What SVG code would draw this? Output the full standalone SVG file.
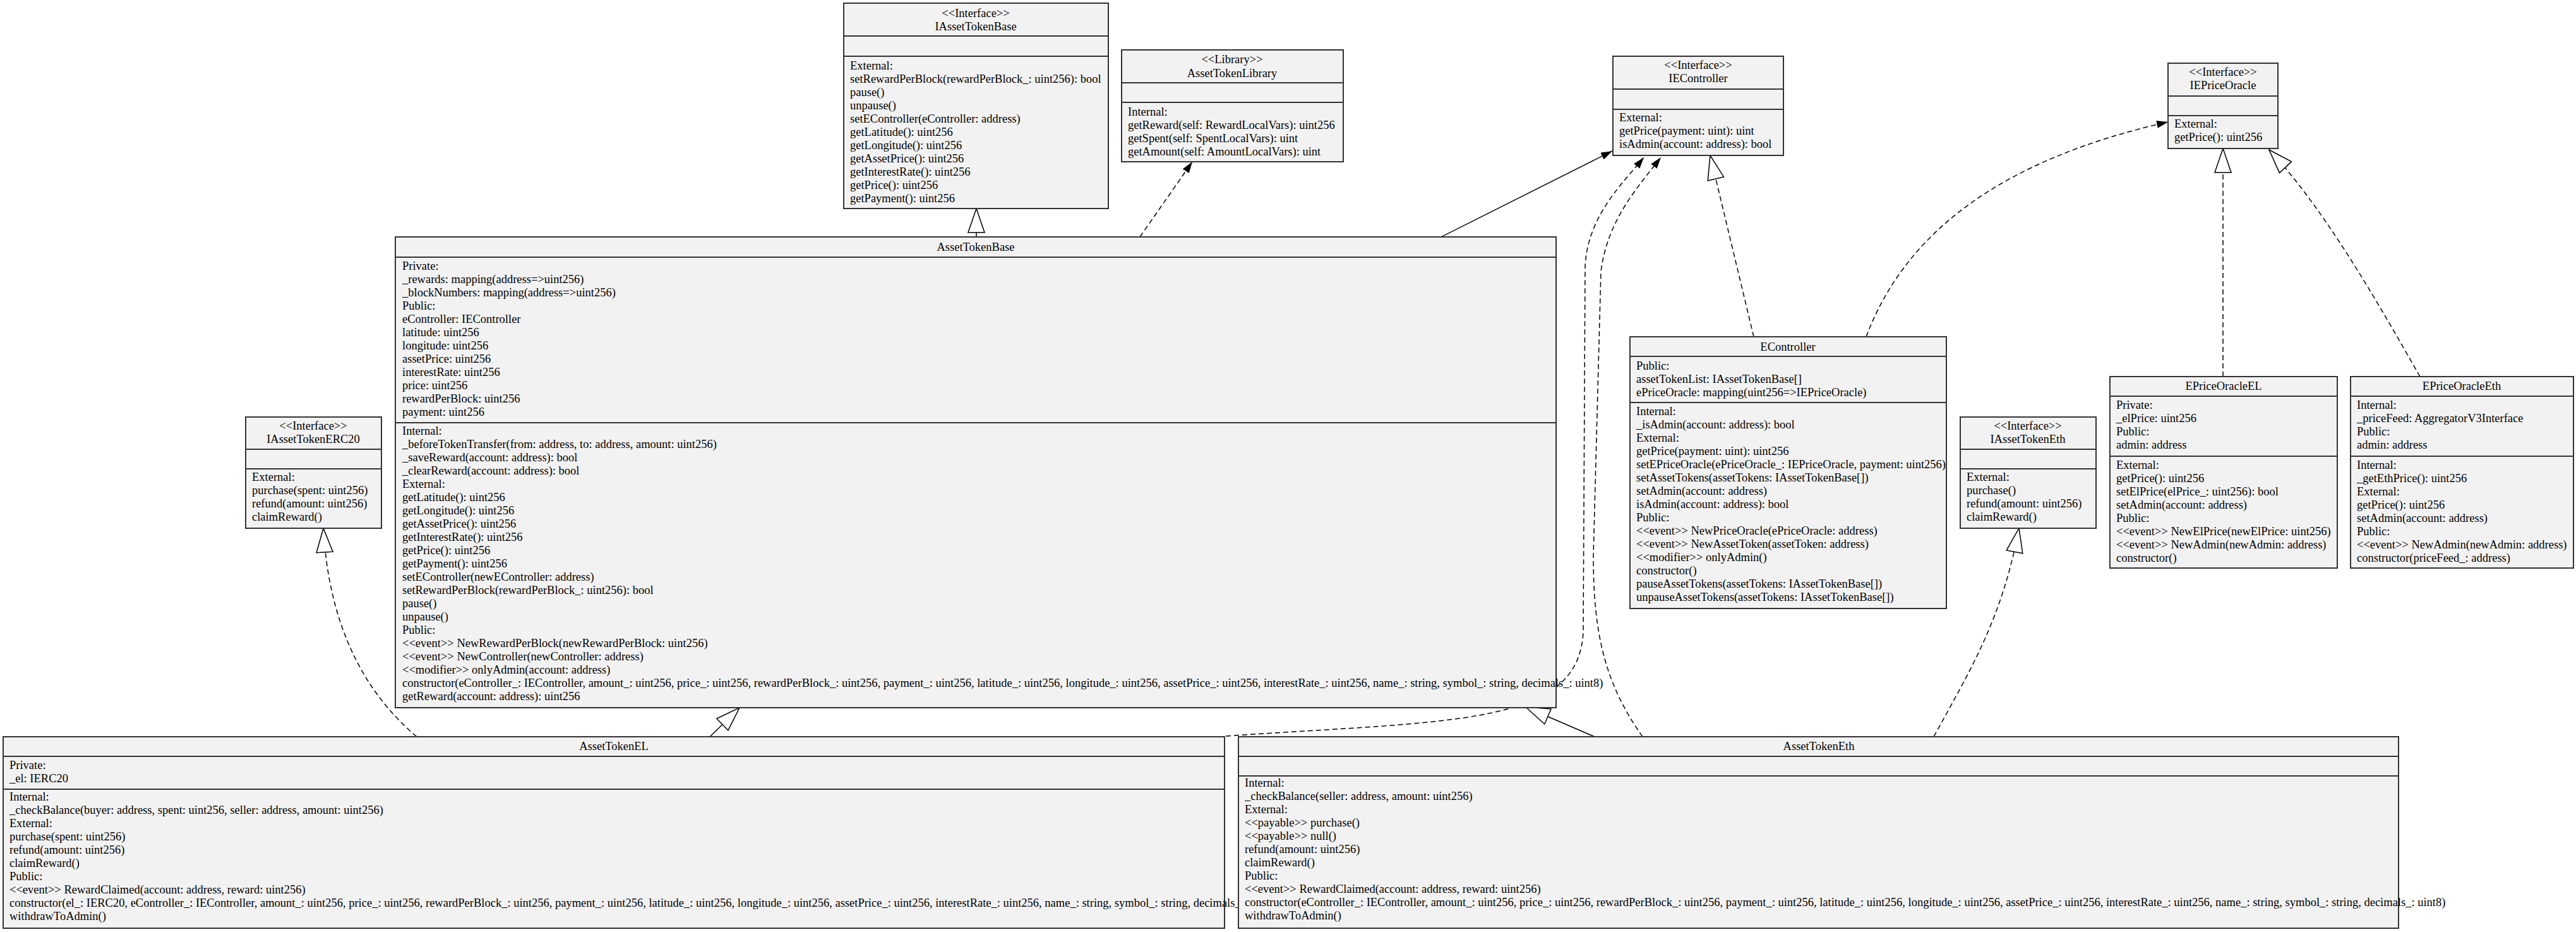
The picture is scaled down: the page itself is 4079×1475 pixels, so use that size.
<svg xmlns="http://www.w3.org/2000/svg" width="4079" height="1475" viewBox="0 0 4079 1475">
<style>
text{font-family:"Liberation Serif","Times New Roman",serif;font-size:18.5px;fill:#000}
.c{text-anchor:middle}
.box{fill:#f2f2f2;stroke:#333;stroke-width:2}
.sep{stroke:#333;stroke-width:2}
.e{fill:none;stroke:#000;stroke-width:1.5}
.d{stroke-dasharray:8,5}
</style>
<defs>
<marker id="tri" markerUnits="userSpaceOnUse" viewBox="-1 -1 40 28" refX="38" refY="13" markerWidth="40" markerHeight="28" orient="auto"><path d="M0,0 L38,13 L0,26 Z" fill="#fff" stroke="#000" stroke-width="1.5"/></marker>
<marker id="arr" markerUnits="userSpaceOnUse" viewBox="0 0 18 12" refX="18" refY="6" markerWidth="18" markerHeight="12" orient="auto"><path d="M0,0 L18,6 L0,12 Z" fill="#000"/></marker>
</defs>
<g id="edges">
<path class="e" d="M1546,375 L1546,330" marker-end="url(#tri)"/>
<path class="e d" d="M1805,375 L1888,256" marker-end="url(#arr)"/>
<path class="e" d="M2282,375 L2553,239" marker-end="url(#arr)"/>
<path class="e" d="M1124,1166 L1171,1120" marker-end="url(#tri)"/>
<path class="e" d="M2525,1166 L2416,1119" marker-end="url(#tri)"/>
<path class="e d" d="M660,1166 C570,1090 520,980 512,836" marker-end="url(#tri)"/>
<path class="e d" d="M1941,1165 C2300,1140 2500,1150 2507,1000 L2510,420 C2515,340 2570,290 2603,249" marker-end="url(#arr)"/>
<path class="e d" d="M2601,1166 C2540,1080 2523,1000 2523,880 L2535,430 C2545,350 2590,300 2630,249" marker-end="url(#arr)"/>
<path class="e d" d="M3062,1166 C3120,1060 3170,980 3197,836" marker-end="url(#tri)"/>
<path class="e d" d="M2777,533 L2708,246" marker-end="url(#tri)"/>
<path class="e d" d="M2955,533 C3020,360 3180,250 3433,193" marker-end="url(#arr)"/>
<path class="e d" d="M3520,596 L3520,235" marker-end="url(#tri)"/>
<path class="e d" d="M3832,596 C3760,470 3680,330 3593,237" marker-end="url(#tri)"/>
</g>
<g id="IAssetTokenBase">
<rect class="box" x="1336" y="5" width="419" height="325"/>
<line class="sep" x1="1336" y1="57" x2="1755" y2="57"/><line class="sep" x1="1336" y1="89" x2="1755" y2="89"/>
<text class="c" x="1545" y="27">&lt;&lt;Interface&gt;&gt;</text><text class="c" x="1545" y="48">IAssetTokenBase</text>
<text x="1346" y="110">External:<tspan x="1346" dy="21">setRewardPerBlock(rewardPerBlock_: uint256): bool</tspan><tspan x="1346" dy="21">pause()</tspan><tspan x="1346" dy="21">unpause()</tspan><tspan x="1346" dy="21">setEController(eController: address)</tspan><tspan x="1346" dy="21">getLatitude(): uint256</tspan><tspan x="1346" dy="21">getLongitude(): uint256</tspan><tspan x="1346" dy="21">getAssetPrice(): uint256</tspan><tspan x="1346" dy="21">getInterestRate(): uint256</tspan><tspan x="1346" dy="21">getPrice(): uint256</tspan><tspan x="1346" dy="21">getPayment(): uint256</tspan></text>
</g>
<g id="AssetTokenLibrary">
<rect class="box" x="1776" y="79" width="351" height="177"/>
<line class="sep" x1="1776" y1="131" x2="2127" y2="131"/><line class="sep" x1="1776" y1="162" x2="2127" y2="162"/>
<text class="c" x="1951" y="100">&lt;&lt;Library&gt;&gt;</text><text class="c" x="1951" y="122">AssetTokenLibrary</text>
<text x="1786" y="183">Internal:<tspan x="1786" dy="21">getReward(self: RewardLocalVars): uint256</tspan><tspan x="1786" dy="21">getSpent(self: SpentLocalVars): uint</tspan><tspan x="1786" dy="21">getAmount(self: AmountLocalVars): uint</tspan></text>
</g>
<g id="IEController">
<rect class="box" x="2554" y="89" width="270" height="157"/>
<line class="sep" x1="2554" y1="141" x2="2824" y2="141"/><line class="sep" x1="2554" y1="173" x2="2824" y2="173"/>
<text class="c" x="2689" y="109">&lt;&lt;Interface&gt;&gt;</text><text class="c" x="2689" y="130">IEController</text>
<text x="2564" y="192">External:<tspan x="2564" dy="21">getPrice(payment: uint): uint</tspan><tspan x="2564" dy="21">isAdmin(account: address): bool</tspan></text>
</g>
<g id="IEPriceOracle">
<rect class="box" x="3433" y="100" width="174" height="135"/>
<line class="sep" x1="3433" y1="152" x2="3607" y2="152"/><line class="sep" x1="3433" y1="183" x2="3607" y2="183"/>
<text class="c" x="3520" y="120">&lt;&lt;Interface&gt;&gt;</text><text class="c" x="3520" y="141">IEPriceOracle</text>
<text x="3443" y="202">External:<tspan x="3443" dy="21">getPrice(): uint256</tspan></text>
</g>
<g id="IAssetTokenERC20">
<rect class="box" x="389" y="660" width="215" height="176"/>
<line class="sep" x1="389" y1="711" x2="604" y2="711"/><line class="sep" x1="389" y1="742" x2="604" y2="742"/>
<text class="c" x="496" y="680">&lt;&lt;Interface&gt;&gt;</text><text class="c" x="496" y="701">IAssetTokenERC20</text>
<text x="399" y="761">External:<tspan x="399" dy="21">purchase(spent: uint256)</tspan><tspan x="399" dy="21">refund(amount: uint256)</tspan><tspan x="399" dy="21">claimReward()</tspan></text>
</g>
<g id="IAssetTokenEth">
<rect class="box" x="3104" y="660" width="215" height="176"/>
<line class="sep" x1="3104" y1="711" x2="3319" y2="711"/><line class="sep" x1="3104" y1="742" x2="3319" y2="742"/>
<text class="c" x="3211" y="680">&lt;&lt;Interface&gt;&gt;</text><text class="c" x="3211" y="701">IAssetTokenEth</text>
<text x="3114" y="761">External:<tspan x="3114" dy="21">purchase()</tspan><tspan x="3114" dy="21">refund(amount: uint256)</tspan><tspan x="3114" dy="21">claimReward()</tspan></text>
</g>
<g id="EController">
<rect class="box" x="2581" y="533" width="501" height="430"/>
<line class="sep" x1="2581" y1="564" x2="3082" y2="564"/><line class="sep" x1="2581" y1="637" x2="3082" y2="637"/>
<text class="c" x="2831" y="555">EController</text>
<text x="2591" y="585">Public:<tspan x="2591" dy="21">assetTokenList: IAssetTokenBase[]</tspan><tspan x="2591" dy="21">ePriceOracle: mapping(uint256=&gt;IEPriceOracle)</tspan></text>
<text x="2591" y="657">Internal:<tspan x="2591" dy="21">_isAdmin(account: address): bool</tspan><tspan x="2591" dy="21">External:</tspan><tspan x="2591" dy="21">getPrice(payment: uint): uint256</tspan><tspan x="2591" dy="21">setEPriceOracle(ePriceOracle_: IEPriceOracle, payment: uint256)</tspan><tspan x="2591" dy="21">setAssetTokens(assetTokens: IAssetTokenBase[])</tspan><tspan x="2591" dy="21">setAdmin(account: address)</tspan><tspan x="2591" dy="21">isAdmin(account: address): bool</tspan><tspan x="2591" dy="21">Public:</tspan><tspan x="2591" dy="21">&lt;&lt;event&gt;&gt; NewPriceOracle(ePriceOracle: address)</tspan><tspan x="2591" dy="21">&lt;&lt;event&gt;&gt; NewAssetToken(assetToken: address)</tspan><tspan x="2591" dy="21">&lt;&lt;modifier&gt;&gt; onlyAdmin()</tspan><tspan x="2591" dy="21">constructor()</tspan><tspan x="2591" dy="21">pauseAssetTokens(assetTokens: IAssetTokenBase[])</tspan><tspan x="2591" dy="21">unpauseAssetTokens(assetTokens: IAssetTokenBase[])</tspan></text>
</g>
<g id="EPriceOracleEL">
<rect class="box" x="3341" y="596" width="360" height="303"/>
<line class="sep" x1="3341" y1="627" x2="3701" y2="627"/><line class="sep" x1="3341" y1="722" x2="3701" y2="722"/>
<text class="c" x="3521" y="617">EPriceOracleEL</text>
<text x="3351" y="647">Private:<tspan x="3351" dy="21">_elPrice: uint256</tspan><tspan x="3351" dy="21">Public:</tspan><tspan x="3351" dy="21">admin: address</tspan></text>
<text x="3351" y="742">External:<tspan x="3351" dy="21">getPrice(): uint256</tspan><tspan x="3351" dy="21">setElPrice(elPrice_: uint256): bool</tspan><tspan x="3351" dy="21">setAdmin(account: address)</tspan><tspan x="3351" dy="21">Public:</tspan><tspan x="3351" dy="21">&lt;&lt;event&gt;&gt; NewElPrice(newElPrice: uint256)</tspan><tspan x="3351" dy="21">&lt;&lt;event&gt;&gt; NewAdmin(newAdmin: address)</tspan><tspan x="3351" dy="21">constructor()</tspan></text>
</g>
<g id="EPriceOracleEth">
<rect class="box" x="3722" y="596" width="353" height="303"/>
<line class="sep" x1="3722" y1="627" x2="4075" y2="627"/><line class="sep" x1="3722" y1="722" x2="4075" y2="722"/>
<text class="c" x="3898" y="617">EPriceOracleEth</text>
<text x="3732" y="647">Internal:<tspan x="3732" dy="21">_priceFeed: AggregatorV3Interface</tspan><tspan x="3732" dy="21">Public:</tspan><tspan x="3732" dy="21">admin: address</tspan></text>
<text x="3732" y="742">Internal:<tspan x="3732" dy="21">_getEthPrice(): uint256</tspan><tspan x="3732" dy="21">External:</tspan><tspan x="3732" dy="21">getPrice(): uint256</tspan><tspan x="3732" dy="21">setAdmin(account: address)</tspan><tspan x="3732" dy="21">Public:</tspan><tspan x="3732" dy="21">&lt;&lt;event&gt;&gt; NewAdmin(newAdmin: address)</tspan><tspan x="3732" dy="21">constructor(priceFeed_: address)</tspan></text>
</g>
<g id="AssetTokenBase">
<rect class="box" x="626" y="375" width="1838" height="745"/>
<line class="sep" x1="626" y1="407" x2="2464" y2="407"/><line class="sep" x1="626" y1="669" x2="2464" y2="669"/>
<text class="c" x="1545" y="397">AssetTokenBase</text>
<text x="637" y="427">Private:<tspan x="637" dy="21">_rewards: mapping(address=&gt;uint256)</tspan><tspan x="637" dy="21">_blockNumbers: mapping(address=&gt;uint256)</tspan><tspan x="637" dy="21">Public:</tspan><tspan x="637" dy="21">eController: IEController</tspan><tspan x="637" dy="21">latitude: uint256</tspan><tspan x="637" dy="21">longitude: uint256</tspan><tspan x="637" dy="21">assetPrice: uint256</tspan><tspan x="637" dy="21">interestRate: uint256</tspan><tspan x="637" dy="21">price: uint256</tspan><tspan x="637" dy="21">rewardPerBlock: uint256</tspan><tspan x="637" dy="21">payment: uint256</tspan></text>
<text x="637" y="688">Internal:<tspan x="637" dy="21">_beforeTokenTransfer(from: address, to: address, amount: uint256)</tspan><tspan x="637" dy="21">_saveReward(account: address): bool</tspan><tspan x="637" dy="21">_clearReward(account: address): bool</tspan><tspan x="637" dy="21">External:</tspan><tspan x="637" dy="21">getLatitude(): uint256</tspan><tspan x="637" dy="21">getLongitude(): uint256</tspan><tspan x="637" dy="21">getAssetPrice(): uint256</tspan><tspan x="637" dy="21">getInterestRate(): uint256</tspan><tspan x="637" dy="21">getPrice(): uint256</tspan><tspan x="637" dy="21">getPayment(): uint256</tspan><tspan x="637" dy="21">setEController(newEController: address)</tspan><tspan x="637" dy="21">setRewardPerBlock(rewardPerBlock_: uint256): bool</tspan><tspan x="637" dy="21">pause()</tspan><tspan x="637" dy="21">unpause()</tspan><tspan x="637" dy="21">Public:</tspan><tspan x="637" dy="21">&lt;&lt;event&gt;&gt; NewRewardPerBlock(newRewardPerBlock: uint256)</tspan><tspan x="637" dy="21">&lt;&lt;event&gt;&gt; NewController(newController: address)</tspan><tspan x="637" dy="21">&lt;&lt;modifier&gt;&gt; onlyAdmin(account: address)</tspan><tspan x="637" dy="21">constructor(eController_: IEController, amount_: uint256, price_: uint256, rewardPerBlock_: uint256, payment_: uint256, latitude_: uint256, longitude_: uint256, assetPrice_: uint256, interestRate_: uint256, name_: string, symbol_: string, decimals_: uint8)</tspan><tspan x="637" dy="21">getReward(account: address): uint256</tspan></text>
</g>
<g id="AssetTokenEL">
<rect class="box" x="5" y="1166" width="1934" height="303"/>
<line class="sep" x1="5" y1="1197" x2="1939" y2="1197"/><line class="sep" x1="5" y1="1249" x2="1939" y2="1249"/>
<text class="c" x="972" y="1187">AssetTokenEL</text>
<text x="15" y="1217">Private:<tspan x="15" dy="21">_el: IERC20</tspan></text>
<text x="15" y="1267">Internal:<tspan x="15" dy="21">_checkBalance(buyer: address, spent: uint256, seller: address, amount: uint256)</tspan><tspan x="15" dy="21">External:</tspan><tspan x="15" dy="21">purchase(spent: uint256)</tspan><tspan x="15" dy="21">refund(amount: uint256)</tspan><tspan x="15" dy="21">claimReward()</tspan><tspan x="15" dy="21">Public:</tspan><tspan x="15" dy="21">&lt;&lt;event&gt;&gt; RewardClaimed(account: address, reward: uint256)</tspan><tspan x="15" dy="21">constructor(el_: IERC20, eController_: IEController, amount_: uint256, price_: uint256, rewardPerBlock_: uint256, payment_: uint256, latitude_: uint256, longitude_: uint256, assetPrice_: uint256, interestRate_: uint256, name_: string, symbol_: string, decimals_: uint8)</tspan><tspan x="15" dy="21">withdrawToAdmin()</tspan></text>
</g>
<g id="AssetTokenEth">
<rect class="box" x="1961" y="1166" width="1837" height="303"/>
<line class="sep" x1="1961" y1="1197" x2="3798" y2="1197"/><line class="sep" x1="1961" y1="1228" x2="3798" y2="1228"/>
<text class="c" x="2880" y="1187">AssetTokenEth</text>
<text x="1971" y="1245">Internal:<tspan x="1971" dy="21">_checkBalance(seller: address, amount: uint256)</tspan><tspan x="1971" dy="21">External:</tspan><tspan x="1971" dy="21">&lt;&lt;payable&gt;&gt; purchase()</tspan><tspan x="1971" dy="21">&lt;&lt;payable&gt;&gt; null()</tspan><tspan x="1971" dy="21">refund(amount: uint256)</tspan><tspan x="1971" dy="21">claimReward()</tspan><tspan x="1971" dy="21">Public:</tspan><tspan x="1971" dy="21">&lt;&lt;event&gt;&gt; RewardClaimed(account: address, reward: uint256)</tspan><tspan x="1971" dy="21">constructor(eController_: IEController, amount_: uint256, price_: uint256, rewardPerBlock_: uint256, payment_: uint256, latitude_: uint256, longitude_: uint256, assetPrice_: uint256, interestRate_: uint256, name_: string, symbol_: string, decimals_: uint8)</tspan><tspan x="1971" dy="21">withdrawToAdmin()</tspan></text>
</g>
</svg>
